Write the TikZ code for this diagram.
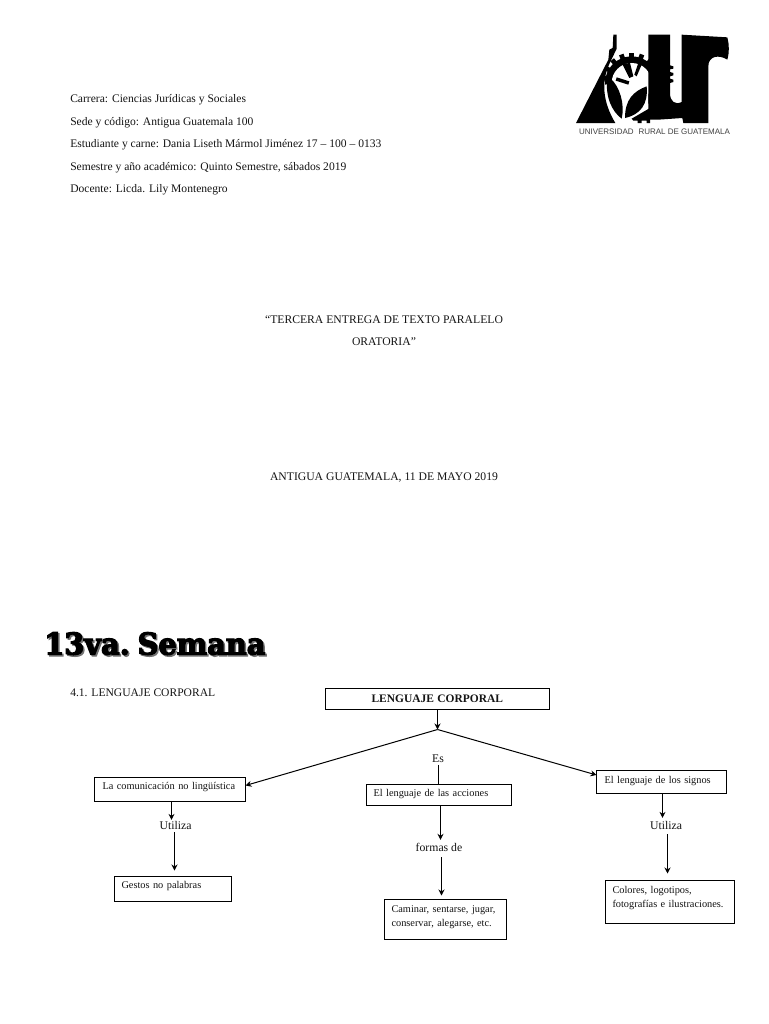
\documentclass[tikz,border=0pt]{standalone}
\usepackage{fontspec}
\usetikzlibrary{arrows.meta,calc}
\setmainfont{Liberation Serif}
\newfontfamily\logofont{Liberation Sans}
\newfontfamily\titlefont[FakeBold=4,FakeStretch=0.96,WordSpace=0.45,BoldFont={DejaVu Serif Bold}]{DejaVu Serif}
\definecolor{ink}{gray}{0.08}
\tikzset{
  x=0.75pt,y=-0.75pt,
  lbl/.style={inner sep=0pt,text=ink,font=\fontsize{8.68}{11}\selectfont,anchor=base west},
  ctr/.style={inner sep=0pt,text=ink,font=\fontsize{8.75}{11}\selectfont,anchor=base},
  bx/.style={draw=black,line width=0.75pt,outer sep=0pt,inner ysep=0pt,anchor=north west,align=left,text=ink,font=\fontsize{7.75}{10.5}\selectfont},
  link/.style={draw=black,line width=0.75pt,-{Stealth[length=4.5pt,width=4.5pt]}},
  plain/.style={draw=black,line width=0.75pt},
  word/.style={inner sep=0pt,outer sep=0pt,text=ink,font=\fontsize{8.8}{10}\selectfont}
}
% name, x1,y1,x2,y2, text x, first baseline y, text
\newcommand\nbox[8]{%
  \pgfmathsetlengthmacro\bxw{0.75pt*(#4-#2-2*(#6-#2))}%
  \pgfmathsetlengthmacro\bxs{0.75pt*(#6-#2)}%
  \pgfmathsetlengthmacro\bxh{0.75pt*(#7-#3)}%
  \pgfmathsetlengthmacro\bxd{0.75pt*(#5-#7)}%
  \node[bx,inner xsep=\bxs,text width=\bxw,text height=\bxh,text depth=\bxd] (#1) at (#2+0.5,#3+0.5) {#8};%
}
\begin{document}
\begin{tikzpicture}
\useasboundingbox (0,0) rectangle (768,1024);
\fill[white] (0,0) rectangle (768,1024);
% header
\node[lbl] (h1) at (70,103) {Carrera: Ciencias Jurídicas y Sociales};
\node[lbl] (h2) at (70,125) {Sede y código: Antigua Guatemala 100};
\node[lbl] (h3) at (70,147) {Estudiante y carne: Dania Liseth Mármol Jiménez 17 – 100 – 0133};
\node[lbl] (h4) at (70,170) {Semestre y año académico: Quinto Semestre, sábados 2019};
\node[lbl] (h5) at (70,192) {Docente: Licda. Lily Montenegro};
\node[ctr] (t1) at (384,323) {“TERCERA ENTREGA DE TEXTO PARALELO};
\node[ctr] (t2) at (384,345) {ORATORIA”};
\node[ctr] (t3) at (384,480) {ANTIGUA GUATEMALA, 11 DE MAYO 2019};
% logo, left part
\begin{scope}[shift={(570,28)},x=0.25pt,y=-0.25pt]
 \fill[black] (185,165) circle (80);
 \foreach \a in {-60,-40,...,120} {\fill[black,rotate around={\a:(185,165)}] (178,74) rectangle (192,90);}
 \fill[white] (185,165) circle (60);
 \fill[white] (100,170) -- (100,290) -- (185,290) -- (172,272) -- (235,235) -- (235,175) -- (185,165) -- cycle;
 \fill[black] (130,20) -- (140,20) -- (140,62) -- (118,108) .. controls (92,165) and (100,225) .. (136,285) -- (18,285) -- (115,95) -- (118,65) -- (128,60) -- cycle;
 \fill[black] (112,150) .. controls (105,205) and (125,250) .. (155,272) .. controls (165,230) and (150,175) .. (120,150) -- cycle;
 \fill[black] (165,270) .. controls (165,215) and (190,190) .. (230,175) .. controls (235,230) and (210,260) .. (165,270) -- cycle;
 \fill[black] (140,148) -- (178,160) -- (175,170) -- (137,158) -- cycle;
 \fill[black] (157,108) -- (180,105) -- (190,145) -- (178,150) -- cycle;
 \fill[black] (205,105) -- (215,110) -- (200,145) -- (193,140) -- cycle;
 \fill[black] (185,272) -- (240,240) -- (240,285) -- (230,285) -- (230,278) -- (215,278) -- (215,285) -- (203,285) -- (203,278) -- (190,278) -- cycle;
\end{scope}
% logo, right part
\begin{scope}[shift={(640,28)},x=0.25pt,y=-0.25pt]
 \fill[black] (25,20) -- (90,20) -- (90,112) -- (100,115) -- (100,122) -- (90,124) -- (90,132) -- (100,135) -- (100,142) -- (90,145) -- (90,152) -- (100,155) -- (100,162) -- (90,165) -- (90,195) .. controls (90,220) and (105,232) .. (125,222) -- (125,20) -- (262,28) .. controls (268,50) and (268,75) .. (262,95) .. controls (235,78) and (205,85) .. (205,115) -- (205,285) -- (130,285) -- (127,270) -- (55,275) -- (25,275) -- cycle;
\end{scope}
\node[inner sep=0pt,text=black!75,font=\logofont\fontsize{6}{7}\selectfont,anchor=base] (logotext) at (654.5,134) {UNIVERSIDAD\hspace{2pt} RURAL DE GUATEMALA};
% week title
\node[inner sep=0pt,anchor=base west,text=black!55,font=\titlefont\bfseries\fontsize{22.5}{26}\selectfont] (titleshadow) at (45.5,656) {13va. Semana};
\node[inner sep=0pt,anchor=base west,text=black,font=\titlefont\bfseries\fontsize{22.5}{26}\selectfont] (title) at (44,654.5) {13va. Semana};
\node[lbl] (sec) at (70,696) {4.1. LENGUAJE CORPORAL};
% diagram
\nbox{main}{325}{688}{549}{709}{371}{702}{\textbf{\fontsize{8.6}{10}\selectfont LENGUAJE CORPORAL}}
\nbox{com}{94}{777}{245}{801}{102}{789}{La comunicación no lingüística}
\nbox{ges}{114}{876}{231}{901}{121}{888}{Gestos no palabras}
\nbox{acc}{366}{784}{511}{805}{373}{796}{El lenguaje de las acciones}
\nbox{cam}{384}{899}{506}{939}{391}{912}{Caminar, sentarse, jugar,\\conservar, alegarse, etc.}
\nbox{sig}{596}{770}{726}{793}{604}{783}{El lenguaje de los signos}
\nbox{col}{605}{880}{734}{923}{612}{893}{Colores, logotipos,\\fotografías e ilustraciones.}
\node[word] (es) at (438,759) {Es};
\node[word] (ut1) at (175.5,825) {Utiliza};
\node[word] (fd) at (439,847) {formas de};
\node[word] (ut2) at (666,825) {Utiliza};
\coordinate (j) at ($(main.south)+(0,20)$);
\draw[link] (main.south) -- (j);
\draw[link] (j) -- ($(com.east)+(0,-4)$);
\draw[link] (j) -- ($(sig.west)+(0,-7)$);
\draw[plain] ($(es.south)+(0.5,2)$) -- ($(es.south |- acc.north)+(0.5,0)$);
\draw[link] ($(com.south)+(1.5,0)$) -- ($(ut1.north)+(-4,-1)$);
\draw[link] ($(ut1.south)+(-1,3)$) -- ($(ges.north)+(1.5,-6)$);
\draw[link] ($(acc.south)+(1.5,0)$) -- ($(fd.north)+(1.5,-3)$);
\draw[link] ($(fd.south)+(2.5,6)$) -- ($(cam.north)+(-4,-4)$);
\draw[link] ($(sig.south)+(1,0)$) -- ($(ut2.north)+(-3.5,-3)$);
\draw[link] ($(ut2.south)+(1.5,5)$) -- ($(col.north)+(-2.5,-7)$);
\end{tikzpicture}
\end{document}
